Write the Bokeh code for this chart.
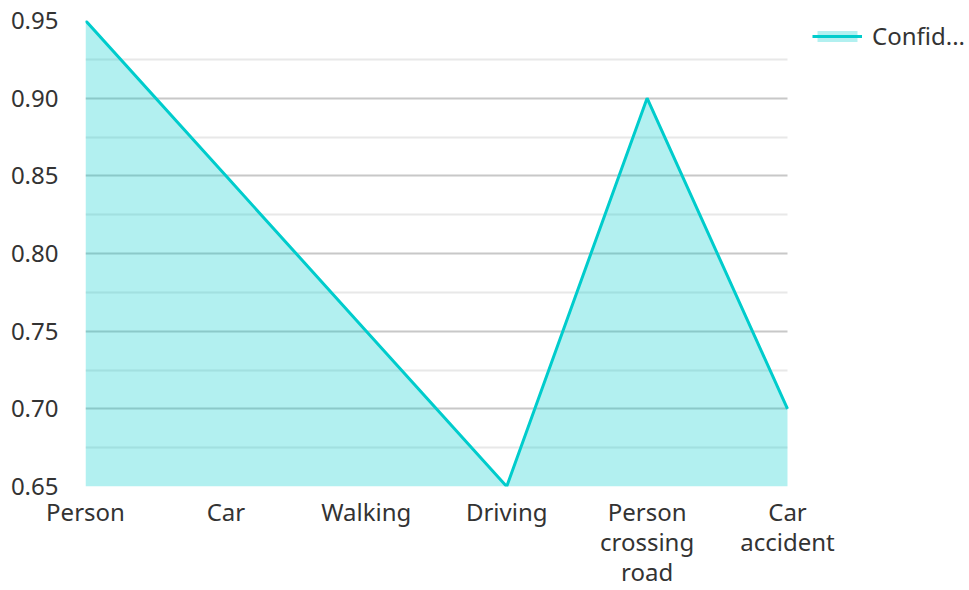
from bokeh.plotting import figure
from bokeh.models import Range1d, FixedTicker, Legend, LegendItem, NumeralTickFormatter
from bokeh.embed import file_html
from bokeh.resources import INLINE

# ---- data ----
categories = ["Person", "Car", "Walking", "Driving", "Person\ncrossing\nroad", "Car\naccident"]
confidence = [0.95, 0.85, 0.75, 0.65, 0.90, 0.70]
series_name = "Confid..."
y_ticks = [0.65, 0.70, 0.75, 0.80, 0.85, 0.90, 0.95]
y_minor_ticks = [0.675, 0.725, 0.775, 0.825, 0.875, 0.925]
y_min, y_max = 0.65, 0.95

x_idx = list(range(len(categories)))

LINE = "#00CCCC"
FONT = "Noto Sans"
TEXT = "#333333"

W, H = 969, 590
LEFT, TOP, BOTTOM = 85, 20, 103
PLOT_W = 702                      # width of the data area (categories span)
frame_w = W - LEFT
x_end = (len(categories) - 1) * frame_w / PLOT_W

p = figure(width=W, height=H, output_backend="svg", toolbar_location=None,
           x_range=Range1d(0, x_end), y_range=Range1d(y_min, y_max),
           min_border_left=LEFT, min_border_right=0, min_border_top=TOP, min_border_bottom=BOTTOM)
p.outline_line_color = None

area = p.varea(x=x_idx, y1=[y_min] * len(x_idx), y2=confidence, fill_color=LINE, fill_alpha=0.3)
ln = p.line(x=x_idx, y=confidence, line_color=LINE, line_width=3)

# axes
p.xaxis.ticker = FixedTicker(ticks=x_idx)
p.xaxis.major_label_overrides = {i: c for i, c in zip(x_idx, categories)}
p.yaxis.ticker = FixedTicker(ticks=y_ticks, minor_ticks=y_minor_ticks)
p.yaxis.formatter = NumeralTickFormatter(format="0.00")
for ax in (p.xaxis[0], p.yaxis[0]):
    ax.axis_line_color = None
    ax.major_tick_line_color = None
    ax.minor_tick_line_color = None
    ax.major_tick_out = 0
    ax.major_tick_in = 0
    ax.minor_tick_out = 0
    ax.minor_tick_in = 0
    ax.major_label_text_font = FONT
    ax.major_label_text_font_size = "24px"
    ax.major_label_text_color = TEXT
p.xaxis.major_label_standoff = 8
p.xaxis.major_label_text_line_height = 0.91
p.yaxis.major_label_standoff = 27

p.xgrid.grid_line_color = None
g = p.ygrid[0]
g.grid_line_color = "#c8c8c8"
g.grid_line_width = 2
g.minor_grid_line_color = "#e8e8e8"
g.minor_grid_line_width = 2
if "cross_bounds" in g.properties():
    g.cross_bounds = (0, len(categories) - 1)

legend = Legend(items=[LegendItem(label=series_name, renderers=[area, ln])],
                location=(PLOT_W + 25, 434), padding=0, margin=0, spacing=0,
                border_line_alpha=0, background_fill_alpha=0,
                glyph_width=50, glyph_height=14, label_standoff=10,
                label_text_font=FONT, label_text_font_size="24px", label_text_color=TEXT)
p.add_layout(legend, "center")

open("out.html", "w").write(file_html(p, INLINE))
